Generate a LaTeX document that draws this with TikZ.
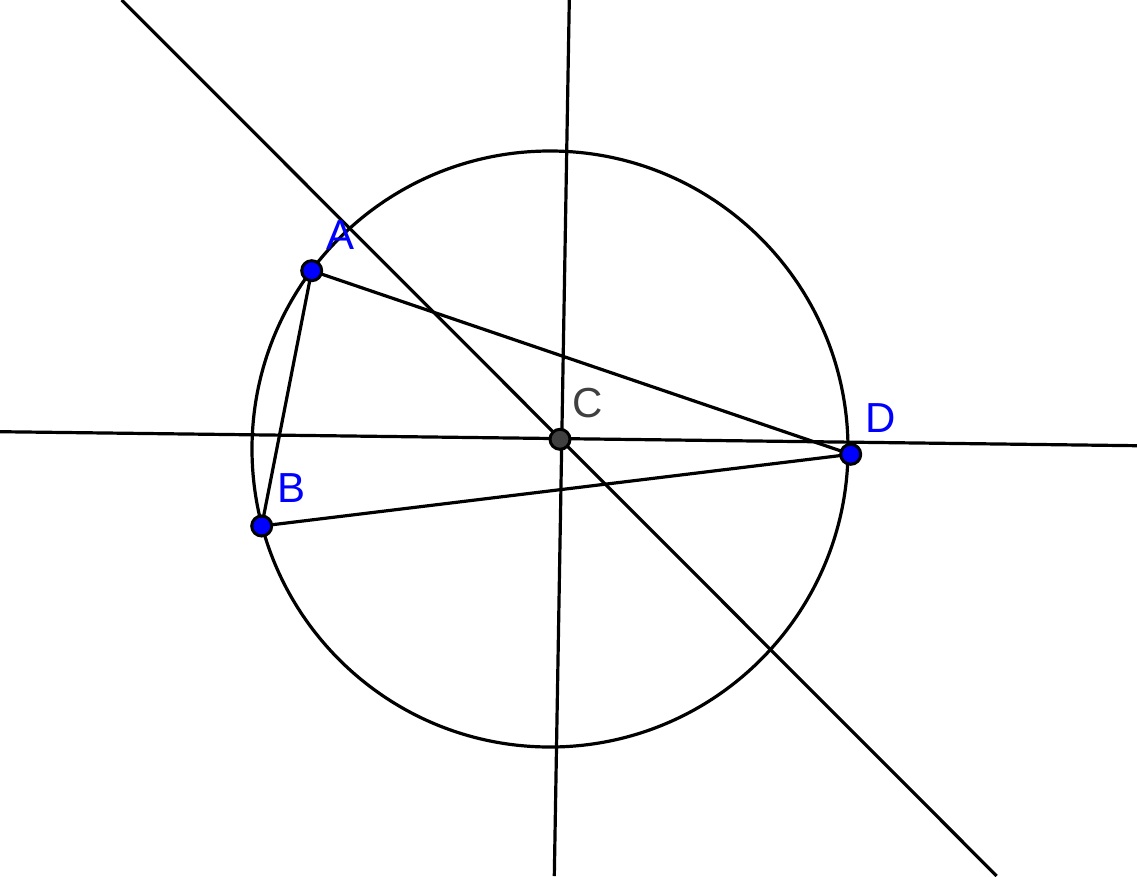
\documentclass[tikz,border=0pt]{standalone}
\usepackage{fontspec}
\setmainfont{Liberation Sans}
\usetikzlibrary{backgrounds}
\definecolor{pointblue}{RGB}{0,0,255}
\definecolor{centergray}{RGB}{64,64,64}
\begin{document}
\begin{tikzpicture}[x=1pt, y=-1pt,
    point/.style ={circle, draw, line width=3pt, fill=pointblue, inner sep=0pt, minimum size=20pt},
    tag/.style ={font=\fontsize{42}{50}\selectfont, text=pointblue, inner sep=0pt},
    stroke/.style ={draw, line width=3.2pt}]
   \useasboundingbox (0,0) rectangle (1137,876);
   \coordinate (O) at (550,449);
   \coordinate (v1) at (569.3,0);
   \coordinate (v2) at (554.3,876);
   \coordinate (h1) at (0,431.7);
   \coordinate (h2) at (1137,445.7);
   \coordinate (d1) at (121.7,0);
   \coordinate (d2) at (996.7,876);
   \node[point] (A) at (311.7,270.7) {};
   \node[point] (B) at (261.7,526) {};
   \node[point] (D) at (850.7,454.3) {};
   \node[point, fill=centergray] (C) at (560,439.3) {};
   \node[tag] (lA) at (340.5,235) {A};
   \node[tag] (lB) at (292,488) {B};
   \node[tag, text=centergray] (lC) at (588,403) {C};
   \node[tag] (lD) at (880.7,418) {D};
   \begin{pgfonlayer}{background}
   \path[stroke] (O) circle [radius=298pt];
   \path[stroke] (v1) -- (v2);
   \path[stroke] (h1) -- (h2);
   \path[stroke] (d1) -- (d2);
   \path[stroke] (A.center) -- (B.center);
   \path[stroke] (A.center) -- (D.center);
   \path[stroke] (B.center) -- (D.center);
   \end{pgfonlayer}
\end{tikzpicture}
\end{document}
